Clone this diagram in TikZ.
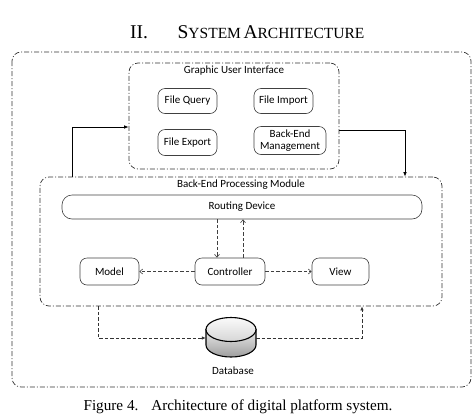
\documentclass[tikz,border=0pt]{standalone}
\usepackage{fontspec}
\setmainfont{Liberation Serif}
\newfontfamily\boxfont{Carlito}
\usetikzlibrary{arrows.meta}

% fake small capitals for the heading
\newcommand{\capbig}[1]{{\fontsize{19.5}{20}\selectfont #1}}
\newcommand{\capsmall}[1]{{\fontsize{15.5}{16}\selectfont #1}}

\begin{document}
\begin{tikzpicture}[x=1pt,y=-1pt,
    dashdot/.style={draw=black!80, line width=0.7pt, rounded corners=9pt,
        dash pattern=on 5pt off 2pt on 1pt off 2pt},
    block/.style={draw=black!75, line width=0.6pt, rounded corners=7pt,
        inner sep=0pt, align=center, font=\boxfont\fontsize{11}{12}\selectfont},
    title/.style={font=\boxfont\fontsize{11}{12}\selectfont},
    solidarrow/.style={draw=black, line width=0.7pt, -{Latex[length=4.5pt,width=3.5pt]}},
    dasharrow/.style={draw=black!75, line width=0.6pt, dash pattern=on 3.5pt off 2pt,
        -{Straight Barb[length=3pt,width=5pt]}},
    dbarrow/.style={draw=black!80, line width=0.7pt, dash pattern=on 3.5pt off 2pt,
        -{Latex[length=4pt,width=3.5pt]}}]
\useasboundingbox (0,0) rectangle (474,416);

% Heading and caption
\node (hnum) at (139,32) {\capbig{II.}};
\node (htext) at (271,32) {\capbig{S}\capsmall{YSTEM} \capbig{A}\capsmall{RCHITECTURE}};
\node[font=\fontsize{15.2}{16}\selectfont] (caption) at (238,407)
    {Figure 4.\hspace{13pt}Architecture of digital platform system.};

% Frames
\draw[dashdot] (12,52) rectangle (471,387);
\node[dashdot, minimum width=210pt, minimum height=106pt] (gui) at (234,116) {};
\node[title] (guititle) at (234,71) {Graphic User Interface};
\node[dashdot, minimum width=402pt, minimum height=129pt] (module) at (241,241.5) {};
\node[title] (modtitle) at (241,185) {Back-End Processing Module};

% GUI blocks
\node[block, minimum width=59pt, minimum height=25pt] (query) at (187.5,101) {File Query};
\node[block, minimum width=59pt, minimum height=25pt] (import) at (283.5,101) {File Import};
\node[block, minimum width=59pt, minimum height=26pt] (export) at (187.5,142.5) {File Export};
\node[block, minimum width=72pt, minimum height=28pt] (manage) at (290,140.5) {Back-End\\Management};

% Back-end blocks
\node[block, minimum width=360pt, minimum height=24pt, rounded corners=10pt] (routing) at (242,207) {Routing Device};
\node[block, minimum width=59pt, minimum height=27pt] (model) at (109.5,271.5) {Model};
\node[block, minimum width=70pt, minimum height=27pt] (ctrl) at (230,271.5) {Controller};
\node[block, minimum width=57pt, minimum height=27pt] (view) at (340.5,271.5) {View};

% Database
\node[minimum width=50pt, minimum height=40pt, inner sep=0pt] (db) at (231,338) {};
\path[draw=black, line width=1.1pt, top color=black!8, bottom color=black!38]
    (206,329.5) -- (206,345) arc[start angle=180, end angle=360, x radius=25pt, y radius=12pt]
    -- (256,329.5) -- cycle;
\path[draw=black, line width=1.1pt, top color=black!2, bottom color=black!16]
    (231,329.5) ellipse [x radius=25pt, y radius=12pt];
\node[title] (dblabel) at (233,371) {Database};

% Connections
\draw[solidarrow] (module.north -| 72,0) |- (gui.west |- 0,127);
\draw[solidarrow] (gui.east |- 0,130) -| (module.north -| 405,0);
\draw[dasharrow] (routing.south -| 217,0) -- (ctrl.north -| 217,0);
\draw[dasharrow] (ctrl.north -| 243,0) -- (routing.south -| 243,0);
\draw[dasharrow] (ctrl.west) -- (model.east);
\draw[dasharrow] (ctrl.east) -- (view.west);
\draw[dbarrow] (module.south -| 98,0) |- (db.west);
\draw[dbarrow] (db.east) -| (module.south -| 362,0);
\end{tikzpicture}
\end{document}
